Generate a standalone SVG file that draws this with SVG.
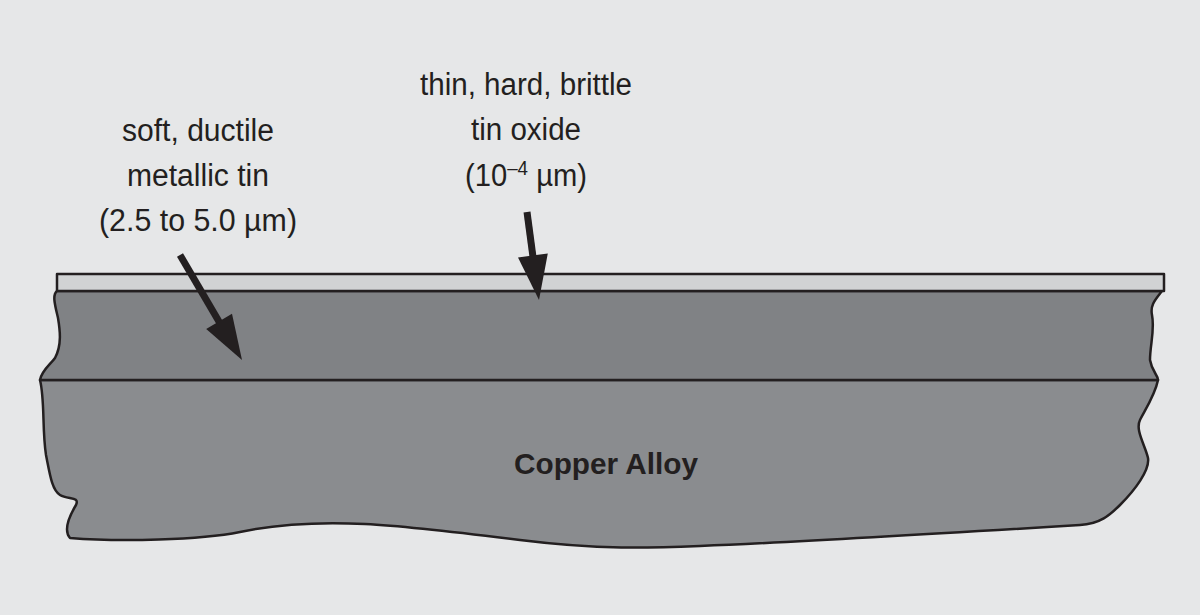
<svg xmlns="http://www.w3.org/2000/svg" width="1200" height="615" viewBox="0 0 1200 615">
<style>
.t{font-family:"Liberation Sans",Arial,sans-serif;font-size:31px;fill:#231f20;text-anchor:middle}
.b{font-weight:bold;font-size:30px}
.ln{stroke:#231f20;stroke-width:2.5;stroke-linejoin:round}
.sh{stroke:#231f20;stroke-width:7}
.hd{fill:#231f20}
</style>
<rect width="1200" height="615" fill="#e6e7e8"/>
<g id="copper">
<path class="ln" fill="#8a8c8f" d="M40,380 C45,400 42,430 46,455 C50,475 52,490 60,495 C68,500 80,496 76,505 C70,515 63,530 70,538 C120,542 200,540 240,532 C320,515 400,525 520,540 C600,550 650,548 700,546 C800,542 900,536 1080,525 C1100,524 1110,515 1120,505 C1135,490 1150,470 1148,458 C1145,445 1135,430 1140,420 C1145,410 1155,395 1158,380 Z"/>
</g>
<g id="tin">
<path class="ln" fill="#808285" d="M57,291 L1162,291 C1155,300 1150,305 1152,315 C1155,330 1150,345 1150,360 C1152,372 1158,375 1158,380 L40,380 C42,370 50,365 55,358 C62,345 60,330 58,318 C55,305 52,295 57,291 Z"/>
</g>
<g id="oxide">
<rect class="ln" x="57" y="274" width="1107" height="17" fill="#d1d3d4" stroke-width="2"/>
</g>
<g id="labels">
<text class="t" x="198" y="141" textLength="152" lengthAdjust="spacingAndGlyphs">soft, ductile</text>
<text class="t" x="198" y="186" textLength="142" lengthAdjust="spacingAndGlyphs">metallic tin</text>
<text class="t" x="198" y="231" textLength="198" lengthAdjust="spacingAndGlyphs">(2.5 to 5.0 µm)</text>
<text class="t" x="526" y="95" textLength="212" lengthAdjust="spacingAndGlyphs">thin, hard, brittle</text>
<text class="t" x="526" y="140" textLength="110" lengthAdjust="spacingAndGlyphs">tin oxide</text>
<text class="t" x="526" y="186" textLength="122" lengthAdjust="spacingAndGlyphs">(10<tspan dy="-11" font-size="20">–4</tspan><tspan dy="11"> µm)</tspan></text>
<text class="t b" x="606" y="474" textLength="184" lengthAdjust="spacingAndGlyphs">Copper Alloy</text>
</g>
<g id="connectors">
<line class="sh" x1="180" y1="255" x2="221" y2="325"/>
<polygon class="hd" points="242,360 232,313.7 206.2,328.9"/>
<line class="sh" x1="527" y1="212" x2="533" y2="257"/>
<polygon class="hd" points="539,300 547.8,253.4 518,257.4"/>
</g>
</svg>
